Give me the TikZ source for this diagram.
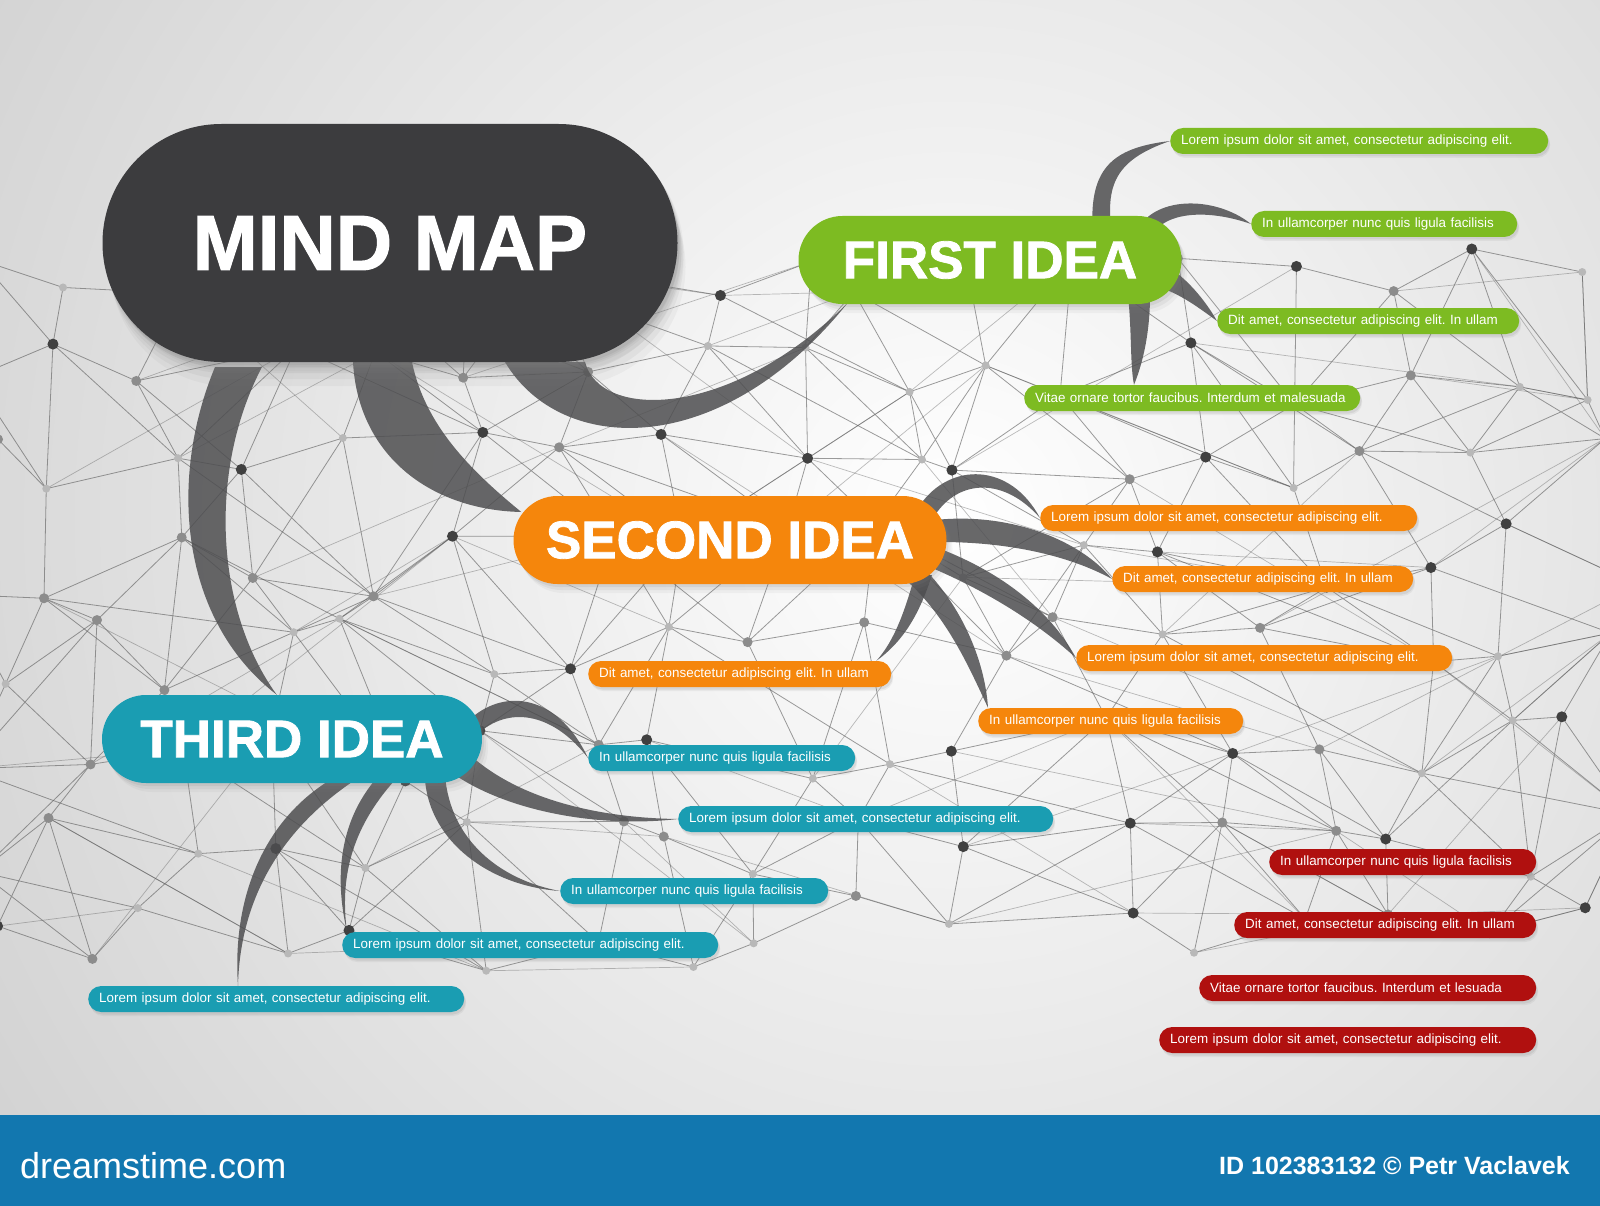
\documentclass[tikz,border=0pt]{standalone}
\usepackage{fontspec}
\setmainfont{Liberation Sans}
\newfontfamily\heavyfont{Liberation Sans}[BoldFeatures={FakeBold=1.5}]
\usepackage{tikz}
\usetikzlibrary{calc,shadows}

\definecolor{mindgray}{HTML}{3C3C3E}
\definecolor{ideagreen}{HTML}{7DBB22}
\definecolor{ideaorange}{HTML}{F5860C}
\definecolor{ideateal}{HTML}{1A9DB2}
\definecolor{ideared}{HTML}{B0100F}
\definecolor{swooshgray}{HTML}{4E4E50}
\definecolor{barblue}{HTML}{1277AF}
\definecolor{netline}{HTML}{5A5A5A}
\definecolor{bgouter}{HTML}{BEBEBE}

\newcommand{\leaffont}{\fontsize{13.4}{15}\selectfont\frenchspacing}
\newcommand{\ideafont}{\fontsize{53}{56}\selectfont\heavyfont\bfseries}
% tapered connector: outer curve to the tip, inner curve back
\newcommand{\swoosh}[7]{\fill[swoosh] #1 .. controls #2 and #3 .. #4 .. controls #5 and #6 .. #7 -- cycle;}

\pgfdeclarelayer{bglayer}
\pgfdeclarelayer{swooshlayer}
\pgfsetlayers{bglayer,swooshlayer,main}

\tikzset{
  net/.style={draw=netline, line width=0.8pt, opacity=0.6},
  netfaint/.style={draw=netline, line width=0.7pt, opacity=0.4},
  dotdark/.style={fill=black!75},
  dotmid/.style={fill=black!45},
  dotlight/.style={fill=black!28},
  swoosh/.style={fill=swooshgray, fill opacity=0.85},
  leafshadow/.style={drop shadow={shadow xshift=2pt, shadow yshift=-4pt, opacity=.10},
    drop shadow={shadow xshift=1.5pt, shadow yshift=-2.5pt, opacity=.15}},
  ideashadow/.style={drop shadow={shadow xshift=6pt, shadow yshift=-9pt, opacity=.07},
    drop shadow={shadow xshift=4pt, shadow yshift=-6pt, opacity=.10},
    drop shadow={shadow xshift=2pt, shadow yshift=-3pt, opacity=.14}},
  mindshadow/.style={drop shadow={shadow xshift=8pt, shadow yshift=-24pt, opacity=.07},
    drop shadow={shadow xshift=6pt, shadow yshift=-17pt, opacity=.09},
    drop shadow={shadow xshift=4pt, shadow yshift=-11pt, opacity=.11},
    drop shadow={shadow xshift=2pt, shadow yshift=-5pt, opacity=.13}},
  idea/.style={rounded corners=44pt, minimum height=88pt, text=white, font=\ideafont, ideashadow},
  leaf/.style 2 args={fill=#1, text width=#2pt-22pt, rounded corners=13pt, minimum height=26pt,
    inner xsep=11pt, inner ysep=2pt, anchor=west, text=white, font=\leaffont, align=left, leafshadow},
}

\begin{document}
\begin{tikzpicture}[x=1pt, y=-1pt]
  \useasboundingbox (0,0) rectangle (1600,1206);

  \begin{pgfonlayer}{bglayer}
    \begin{scope}
      \clip (0,0) rectangle (1600,1115);
      \fill[bgouter] (0,0) rectangle (1600,1115);
      \shade[inner color=white, outer color=bgouter] (950,520) circle (1650pt);
      % network
      \pgfmathsetseed{42}
      \foreach \i in {0,...,16}{
        \foreach \j in {0,...,7}{
          \pgfmathsetmacro\px{-30+\i*102+rand*42}
          \pgfmathsetmacro\py{282+\j*93+rand*38}
          \coordinate (n-\i-\j) at (\px,\py);
        }
      }
      \foreach \i in {0,...,16}{
        \foreach \j in {0,...,7}{
          \pgfmathtruncatemacro\ii{\i+1}
          \pgfmathtruncatemacro\jj{\j+1}
          \pgfmathtruncatemacro\iii{\i+2}
          \ifnum\i<16 \draw[net] (n-\i-\j) -- (n-\ii-\j); \fi
          \ifnum\j<7 \draw[net] (n-\i-\j) -- (n-\i-\jj); \fi
          \ifnum\i<16 \ifnum\j<7
            \pgfmathtruncatemacro\pick{int(rnd*4)}
            \ifcase\pick
              \draw[net] (n-\i-\j) -- (n-\ii-\jj);
            \or
              \draw[net] (n-\ii-\j) -- (n-\i-\jj);
            \or
              \draw[net] (n-\i-\j) -- (n-\ii-\jj) (n-\ii-\j) -- (n-\i-\jj);
            \else
            \fi
          \fi\fi
          \ifnum\i<15 \ifnum\j<7
            \pgfmathtruncatemacro\far{int(rnd*3)}
            \ifnum\far=0 \draw[net] (n-\i-\j) -- (n-\iii-\jj); \fi
          \fi\fi
        }
      }
      % longer crossing lines
      \foreach \i in {0,...,16}{
        \foreach \j in {0,...,7}{
          \pgfmathtruncatemacro\ti{min(16,\i+2+int(rnd*2))}
          \pgfmathtruncatemacro\tj{max(0,min(7,\j+int(rnd*5)-2))}
          \pgfmathtruncatemacro\go{int(rnd*3)}
          \ifnum\go<2 \draw[netfaint] (n-\i-\j) -- (n-\ti-\tj); \fi
        }
      }
      \foreach \i in {0,...,16}{
        \foreach \j in {0,...,7}{
          \pgfmathtruncatemacro\tone{int(rnd*10)}
          \ifnum\tone<3
            \fill[dotdark] (n-\i-\j) circle (5.5pt);
          \else\ifnum\tone<7
            \fill[dotmid] (n-\i-\j) circle (5pt);
          \else
            \fill[dotlight] (n-\i-\j) circle (4pt);
          \fi\fi
        }
      }
    \end{scope}
  \end{pgfonlayer}

  % main ideas
  \node[idea, fill=mindgray, minimum width=575pt, minimum height=238pt, rounded corners=119pt,
    font=\fontsize{78}{80}\selectfont\heavyfont\bfseries, mindshadow]
    (mind) at (390,243) {MIND MAP};
  \node[idea, fill=ideagreen, minimum width=383pt] (first) at (990,260) {FIRST IDEA};
  \node[idea, fill=ideaorange, minimum width=433pt] (second) at (730,540) {SECOND IDEA};
  \node[idea, fill=ideateal, minimum width=380pt] (third) at (292,739) {THIRD IDEA};

  % green leaves
  \node[leaf={ideagreen}{378}] (g1) at (1170,141) {Lorem ipsum dolor sit amet, consectetur adipiscing elit.};
  \node[leaf={ideagreen}{266}] (g2) at (1251,224) {In ullamcorper nunc quis ligula facilisis};
  \node[leaf={ideagreen}{302}] (g3) at (1217,321) {Dit amet, consectetur adipiscing elit. In ullam};
  \node[leaf={ideagreen}{336}] (g4) at (1024,398) {Vitae ornare tortor faucibus. Interdum et malesuada};

  % orange leaves
  \node[leaf={ideaorange}{377}] (o1) at (1040,518) {Lorem ipsum dolor sit amet, consectetur adipiscing elit.};
  \node[leaf={ideaorange}{301}] (o2) at (1112,579) {Dit amet, consectetur adipiscing elit. In ullam};
  \node[leaf={ideaorange}{376}] (o3) at (1076,658) {Lorem ipsum dolor sit amet, consectetur adipiscing elit.};
  \node[leaf={ideaorange}{265}] (o4) at (978,721) {In ullamcorper nunc quis ligula facilisis};
  \node[leaf={ideaorange}{303}] (o5) at (588,674) {Dit amet, consectetur adipiscing elit. In ullam};

  % teal leaves
  \node[leaf={ideateal}{267}] (t1) at (588,758) {In ullamcorper nunc quis ligula facilisis};
  \node[leaf={ideateal}{375}] (t2) at (678,819) {Lorem ipsum dolor sit amet, consectetur adipiscing elit.};
  \node[leaf={ideateal}{268}] (t3) at (560,891) {In ullamcorper nunc quis ligula facilisis};
  \node[leaf={ideateal}{376}] (t4) at (342,945) {Lorem ipsum dolor sit amet, consectetur adipiscing elit.};
  \node[leaf={ideateal}{376}] (t5) at (88,999) {Lorem ipsum dolor sit amet, consectetur adipiscing elit.};

  % red leaves
  \node[leaf={ideared}{267}] (r1) at (1269,862) {In ullamcorper nunc quis ligula facilisis};
  \node[leaf={ideared}{302}] (r2) at (1234,925) {Dit amet, consectetur adipiscing elit. In ullam};
  \node[leaf={ideared}{337}] (r3) at (1199,988) {Vitae ornare tortor faucibus. Interdum et lesuada};
  \node[leaf={ideared}{377}] (r4) at (1159,1040) {Lorem ipsum dolor sit amet, consectetur adipiscing elit.};

  % connectors
  \begin{pgfonlayer}{swooshlayer}
    \swoosh{(505,362)}{(560,455)}{(720,462)}{([xshift=50pt,yshift=2pt]first.south west)}{(730,420)}{(600,420)}{(585,362)}
    \swoosh{(353,362)}{(358,455)}{(430,510)}{($(second.west)+(8,-28)$)}{(470,470)}{(425,425)}{(412,362)}
    \swoosh{(215,367)}{(168,480)}{(180,620)}{([xshift=175pt]third.north west)}{(215,610)}{(208,470)}{(262,367)}

    \swoosh{(1093,235)}{(1088,170)}{(1110,148)}{(g1.west)}{(1115,160)}{(1105,185)}{(1112,235)}
    \swoosh{(1135,235)}{(1150,195)}{(1215,195)}{(g2.west)}{(1205,208)}{(1160,212)}{(1150,240)}
    \swoosh{(1160,262)}{(1185,275)}{(1205,300)}{(g3.west)}{(1195,305)}{(1175,290)}{(1150,285)}
    \swoosh{(1150,295)}{(1150,340)}{(1140,370)}{([xshift=110pt]g4.north west)}{(1130,365)}{(1132,335)}{(1128,295)}

    \swoosh{(920,505)}{(950,462)}{(1010,462)}{(o1.west)}{(1005,478)}{(960,478)}{(935,515)}
    \swoosh{(935,520)}{(1010,512)}{(1080,540)}{(o2.west)}{(1070,556)}{(1010,542)}{(940,542)}
    \swoosh{(930,545)}{(1000,570)}{(1050,610)}{(o3.west)}{(1040,625)}{(990,592)}{(925,565)}
    \swoosh{(915,560)}{(960,600)}{(985,660)}{([xshift=10pt]o4.north west)}{(968,665)}{(945,612)}{(900,575)}
    \swoosh{(915,575)}{(905,610)}{(895,640)}{([xshift=-15pt]o5.north east)}{(905,640)}{(920,612)}{(932,575)}

    \swoosh{(475,715)}{(510,688)}{(560,698)}{(t1.west)}{(555,715)}{(512,705)}{(480,732)}
    \swoosh{(470,755)}{(520,800)}{(600,818)}{(t2.west)}{(600,828)}{(510,812)}{(455,775)}
    \swoosh{(445,775)}{(450,840)}{(500,880)}{(t3.west)}{(490,886)}{(430,842)}{(425,780)}
    \swoosh{(395,780)}{(350,830)}{(340,880)}{([xshift=5pt]t4.north west)}{(334,876)}{(340,822)}{(375,780)}
    \swoosh{(355,780)}{(280,830)}{(240,900)}{([xshift=150pt]t5.north west)}{(232,900)}{(262,822)}{(330,780)}
  \end{pgfonlayer}

  % bottom bar
  \fill[barblue] (0,1115) rectangle (1600,1206);
  \node[anchor=west, text=white, font=\fontsize{36}{38}\selectfont, inner sep=0pt] (brand) at (20,1166) {dreamstime.com};
  \node[anchor=east, text=white, font=\fontsize{25}{27}\selectfont\bfseries, inner sep=0pt] (credit) at (1570,1166) {ID 102383132 © Petr Vaclavek};
\end{tikzpicture}
\end{document}
